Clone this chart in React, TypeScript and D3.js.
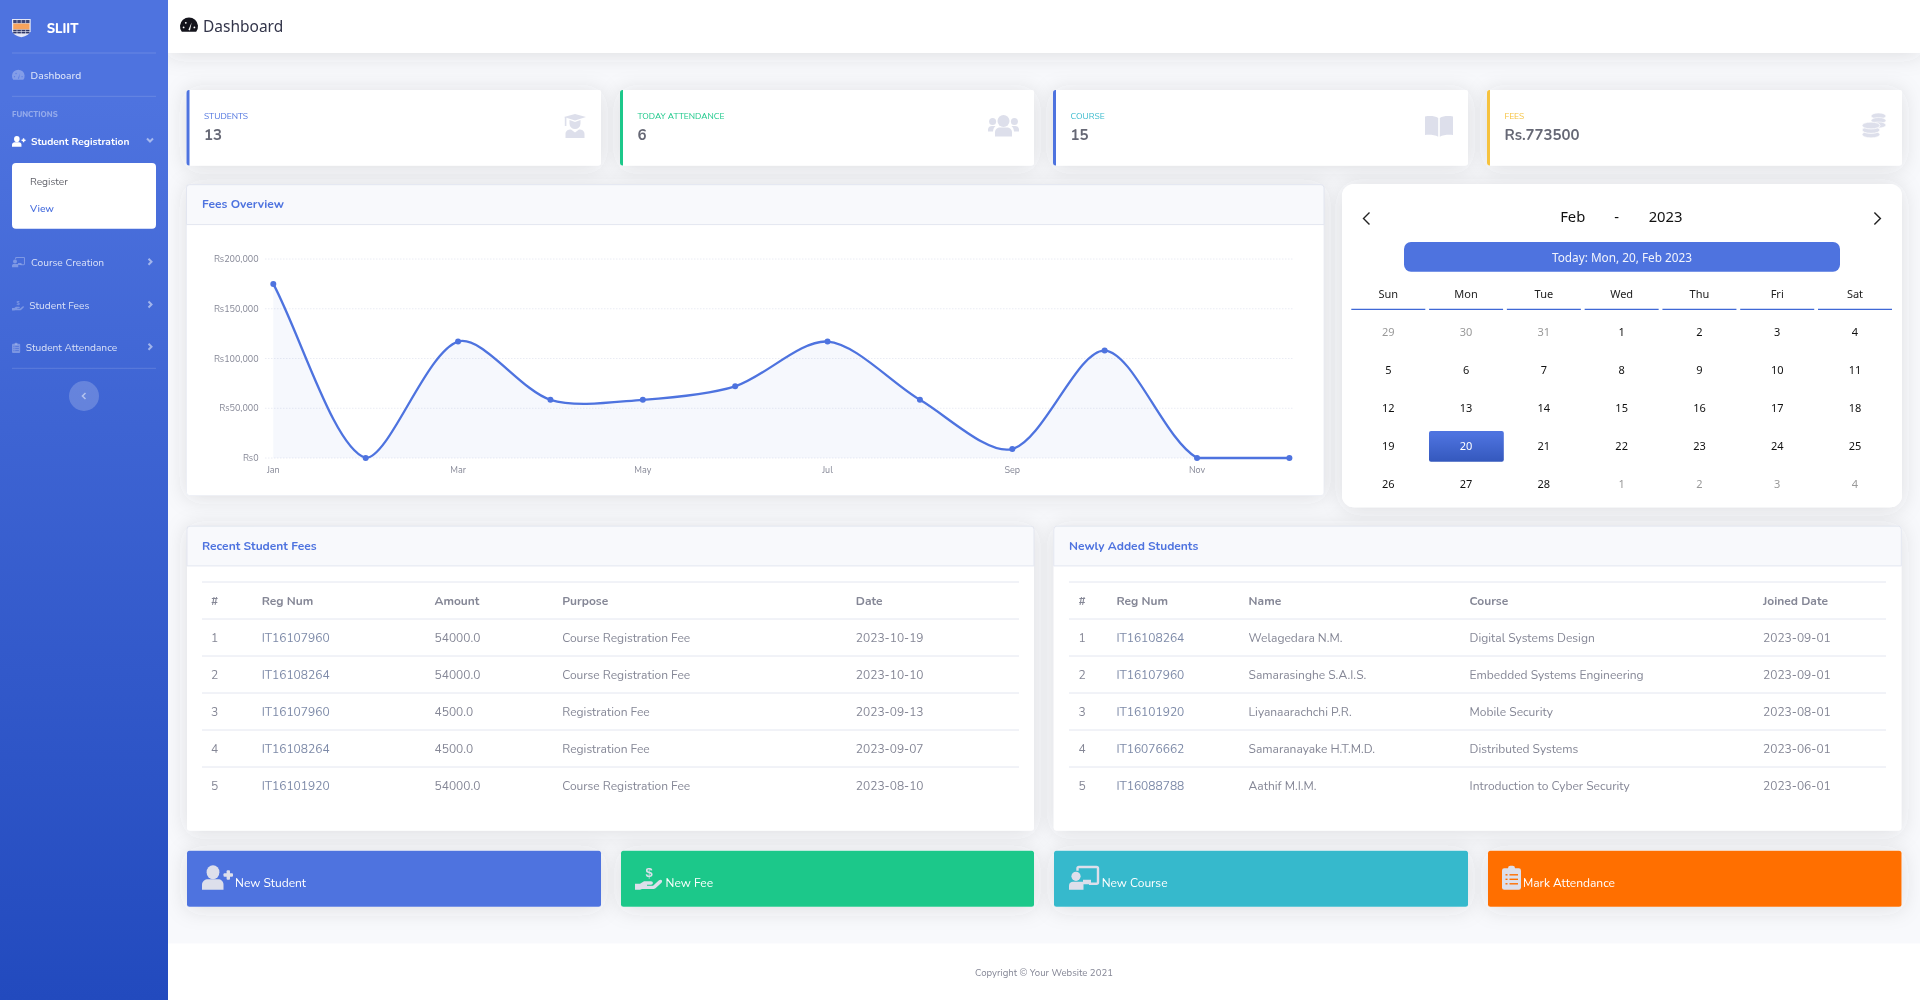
import React from "react";
import * as d3 from "d3";

const months = ["Jan","Feb","Mar","Apr","May","Jun","Jul","Aug","Sep","Oct","Nov","Dec"];
const monthlyFees = [175000,0,117000,58500,58500,72000,117000,58500,9000,108000,0,0];
const yTicks = [0,50000,100000,150000,200000];
const xLabels = ["Jan","Mar","May","Jul","Sep","Nov"];

const statLabels = ["STUDENTS","TODAY ATTENDANCE","COURSE","FEES"];
const statValues = ["13","6","15","Rs.773500"];
const statColors = ["#4e73df","#1cc88a","#36b9cc","#f6c23e"];
const statBorders = ["#4e73df","#1cc88a","#4e73df","#f6c23e"];

const feeHead = ["#","Reg Num","Amount","Purpose","Date"];
const feeRegs = ["IT16107960","IT16108264","IT16107960","IT16108264","IT16101920"];
const feeAmounts = ["54000.0","54000.0","4500.0","4500.0","54000.0"];
const feePurposes = ["Course Registration Fee","Course Registration Fee","Registration Fee","Registration Fee","Course Registration Fee"];
const feeDates = ["2023-10-19","2023-10-10","2023-09-13","2023-09-07","2023-08-10"];

const stuHead = ["#","Reg Num","Name","Course","Joined Date"];
const stuRegs = ["IT16108264","IT16107960","IT16101920","IT16076662","IT16088788"];
const stuNames = ["Welagedara N.M.","Samarasinghe S.A.I.S.","Liyanaarachchi P.R.","Samaranayake H.T.M.D.","Aathif M.I.M."];
const stuCourses = ["Digital Systems Design","Embedded Systems Engineering","Mobile Security","Distributed Systems","Introduction to Cyber Security"];
const stuDates = ["2023-09-01","2023-09-01","2023-08-01","2023-06-01","2023-06-01"];

const weekDays = ["Sun","Mon","Tue","Wed","Thu","Fri","Sat"];
const prevDays = [29,30,31];
const curDays = [1,2,3,4,5,6,7,8,9,10,11,12,13,14,15,16,17,18,19,20,21,22,23,24,25,26,27,28];
const nextDays = [1,2,3,4];

const actionLabels = ["New Student","New Fee","New Course","Mark Attendance"];
const actionColors = ["#4e73df","#1cc88a","#36b9cc","#ff6f00"];

const UI = "Nunito, Lato, sans-serif";
const CAL = "'Noto Sans', sans-serif";
const ICON = "#dddfeb";
const GREY = "#858796";

const cardsX: [number, number][] = [[186.5,601],[620,1034],[1053,1468],[1487,1902]];
const buttonsX: [number, number][] = [[187,601],[621,1034],[1054,1468],[1488,1901.5]];

type TP = { x:number; y:number; s:number; c:string; w?:number; a?:"start"|"middle"|"end"; f?:string; o?:number; children:any };
const T = ({x,y,s,c,w=400,a="start",f=UI,o,children}:TP) => (
  <text x={x} y={y} fontSize={s} fill={c} fontWeight={w} textAnchor={a} fontFamily={f} dominantBaseline="central" opacity={o}>{children}</text>
);

const at = (x:number,y:number,sc:number,el:any) => <g transform={`translate(${x},${y}) scale(${sc})`}>{el}</g>;

const gauge = (c:string, inner:string) => (
  <g>
    <path d="M1.8 14 A9 9 0 1 1 16.2 14 Z" fill={c}/>
    <path d="M8.4 12 L11.6 4.8 L10 12.6 Z" fill={inner}/>
    <circle cx="3.6" cy="9.6" r="0.9" fill={inner}/><circle cx="5.8" cy="5" r="0.9" fill={inner}/>
    <circle cx="14.4" cy="9.6" r="0.9" fill={inner}/>
  </g>
);
const userPlus = (c:string) => (
  <g fill={c}>
    <ellipse cx="11" cy="6.5" rx="6.4" ry="7"/>
    <path d="M0 24 V19 C0 15.5 3 13.5 6 13.5 H16 C19 13.5 21.5 15.5 21.5 19 V24 Z"/>
    <rect x="21.5" y="7.5" width="9.5" height="3.4" rx="1"/><rect x="24.6" y="4.4" width="3.4" height="9.6" rx="1"/>
  </g>
);
const hand = (c:string) => (
  <g fill={c}>
    <text x="14" y="7" fontSize="13" fontWeight="700" textAnchor="middle" fontFamily="'Liberation Sans'" dominantBaseline="central">$</text>
    <path d="M0 24 V18 H5 L9 15.5 H16 C18.5 15.5 18.5 19 16 19 H12 V20 H18 L24 14.5 C26.5 13 28 15 26.5 17 L20.5 22.5 C20 23 19 23.3 18 23.3 H7 L5 24 Z"/>
  </g>
);
const chalk = (c:string) => (
  <g>
    <path d="M8.5 5 V2.5 Q8.5 1.2 10 1.2 H27.5 Q29 1.2 29 2.5 V16.5 Q29 18 27.5 18 H20" fill="none" stroke={c} strokeWidth="2.4"/>
    <circle cx="7" cy="10.5" r="4.6" fill={c}/>
    <path d="M0 24 V20 C0 17 2 16 4 16 H14 V14 H22 V18.5 H14.5 V24 Z" fill={c}/>
  </g>
);
const clip = (c:string, inner:string) => (
  <g>
    <rect x="0" y="2.5" width="19" height="21.5" rx="2.2" fill={c}/>
    <rect x="6" y="0" width="7" height="5" rx="2.4" fill={c}/>
    {[9,13.5,18].map(y => <g key={y}><rect x="3.5" y={y-0.7} width="2" height="1.4" fill={inner}/><rect x="7.5" y={y-0.7} width="8.5" height="1.4" fill={inner}/></g>)}
  </g>
);
const gradCap = (c:string) => (
  <g fill={c}>
    <path d="M0 3 L11 0 L22 3 L11 6.5 Z"/>
    <rect x="0.8" y="3" width="1.6" height="9"/>
    <path d="M5.5 6 L11 8 L16.5 6 V9.5 A5.5 5.5 0 0 1 5.5 9.5 Z"/>
    <path d="M1.5 24 V20 C1.5 17 4 15.6 7 15.6 L11 18.4 L15 15.6 C18 15.6 20.5 17 20.5 20 V24 Z"/>
  </g>
);
const users = (c:string) => (
  <g fill={c}>
    <circle cx="15.5" cy="6" r="6"/>
    <path d="M7 21.5 V17.5 C7 14 9.5 12.5 12 12.5 H19 C21.5 12.5 24 14 24 17.5 V21.5 Z"/>
    <circle cx="4.6" cy="6.5" r="3.5"/><circle cx="26.4" cy="6.5" r="3.5"/>
    <path d="M0 16.5 V14.5 C0 12 2 11 4 11 H7.5 C5.8 12.5 5.2 14.5 5 16.5 Z"/>
    <path d="M31 16.5 V14.5 C31 12 29 11 27 11 H23.5 C25.2 12.5 25.8 14.5 26 16.5 Z"/>
  </g>
);
const book = (c:string) => (
  <g fill={c}>
    <path d="M0 1.5 C5 0.5 10 1 13.2 3 V21.8 C10 20 5 19.5 0 20 Z"/>
    <path d="M28 1.5 C23 0.5 18 1 14.8 3 V21.8 C18 20 23 19.5 28 20 Z"/>
  </g>
);
const coins = (c:string) => (
  <g>
    {[[16.5,3],[16.5,7.5],[16.5,12]].map(([x,y],i) => <ellipse key={i} cx={x} cy={y} rx="7.5" ry="3" fill={c} stroke="#fff" strokeWidth="0.6"/>)}
    {[[9,21.5],[9,17],[9,12.5]].map(([x,y],i) => <ellipse key={i} cx={x} cy={y} rx="9" ry="3.4" fill={c} stroke="#fff" strokeWidth="0.8"/>)}
  </g>
);
const logo = (
  <g>
    <path d="M0 0 H18.7 V11 C18.7 15 14 17 9.3 18.3 C4.7 17 0 15 0 11 Z" fill="#e4e7f6"/>
    <rect x="1.2" y="1" width="16.3" height="3.2" fill="#3d4677"/>
    <rect x="1.2" y="4.6" width="16.3" height="5.8" fill="#f7a35c"/>
    <rect x="1.2" y="10.8" width="16.3" height="3.6" fill="#2c3566"/>
    <path d="M5 1 V4.2 M9.3 1 V4.2 M13.6 1 V4.2 M5 10.8 V15 M9.3 10.8 V17 M13.6 10.8 V15" stroke="#e8ebf8" strokeWidth="0.6"/>
    <path d="M0 12.5 H18.7" stroke="#e8ebf8" strokeWidth="0.6"/>
  </g>
);

const Chev = ({x,y,dir,c,sw=1.7,size=3}:{x:number;y:number;dir:"l"|"r"|"d";c:string;sw?:number;size?:number}) => {
  const d = dir==="d" ? `M${x-size} ${y-size/2} L${x} ${y+size/2} L${x+size} ${y-size/2}`
    : dir==="r" ? `M${x-size/2} ${y-size} L${x+size/2} ${y} L${x-size/2} ${y+size}`
    : `M${x+size/2} ${y-size} L${x-size/2} ${y} L${x+size/2} ${y+size}`;
  return <path d={d} fill="none" stroke={c} strokeWidth={sw}/>;
};

// Chart.js style bezier smoothing (tension 0.3) built with d3.path
function smoothLine(pts:[number,number][], t:number, top:number, bottom:number, close?:number) {
  const cps = pts.map((p,i) => {
    const prev = pts[Math.max(i-1,0)], next = pts[Math.min(i+1,pts.length-1)];
    const d01 = Math.hypot(p[0]-prev[0],p[1]-prev[1]), d12 = Math.hypot(next[0]-p[0],next[1]-p[1]);
    const tot = d01+d12 || 1;
    const fa = t*d01/tot, fb = t*d12/tot;
    const cl = (v:number) => Math.max(top,Math.min(bottom,v));
    return { px:p[0]-fa*(next[0]-prev[0]), py:cl(p[1]-fa*(next[1]-prev[1])), nx:p[0]+fb*(next[0]-prev[0]), ny:cl(p[1]+fb*(next[1]-prev[1])) };
  });
  const path = d3.path();
  path.moveTo(pts[0][0],pts[0][1]);
  for (let i=1;i<pts.length;i++) path.bezierCurveTo(cps[i-1].nx,cps[i-1].ny,cps[i].px,cps[i].py,pts[i][0],pts[i][1]);
  if (close!==undefined) { path.lineTo(pts[pts.length-1][0],close); path.lineTo(pts[0][0],close); path.closePath(); }
  return path.toString();
}

const TableBlock = ({x0,x1,cols,head,rows}:{x0:number;x1:number;cols:number[];head:string[];rows:string[][]}) => {
  const lineY = d3.scaleLinear().domain([0,1]).range([582,619]);
  const rowY = (i:number) => 637.8 + i*37;
  return (
    <g>
      {[0,1,2,3,4,5].map(i => <line key={i} x1={x0} x2={x1} y1={lineY(i)} y2={lineY(i)} stroke="#e3e6f0" strokeWidth="1"/>)}
      {head.map((h,i) => <T key={h} x={cols[i]} y={600.8} s={12} c={GREY} w={700}>{h}</T>)}
      {rows.map((r,ri) => r.map((v,ci) => (
        <T key={ci} x={cols[ci]} y={rowY(ri)} s={12} c={ci===1 ? "#7d8aa8" : GREY}>{v}</T>
      )))}
    </g>
  );
};

export default function App() {
  const x = d3.scalePoint<string>().domain(months).range([273.3,1289.4]);
  const y = d3.scaleLinear().domain([0,200000]).range([458,259]);
  const pts = months.map((m,i) => [x(m) as number, y(monthlyFees[i])] as [number,number]);
  const line = smoothLine(pts,0.3,259,458);
  const area = smoothLine(pts,0.3,259,458,y(0));
  const money = (v:number) => "Rs" + d3.format(",")(v);
  const calX = d3.scalePoint<string>().domain(weekDays).range([1388.3,1855]);
  const cells = [
    ...prevDays.map(d => ({d,m:true})),
    ...curDays.map(d => ({d,m:false})),
    ...nextDays.map(d => ({d,m:true})),
  ];
  const panels:[number,number,number,number,number][] = [
    [186.5,184.7,1137.5,310.9,3],
    [1342,184,560,323.3,12],
    [187,526.2,847,304.4,3],
    [1053.8,526.2,847.5,304.4,3],
    ...cardsX.map(([a,b]) => [a,90,b-a,75.4,3] as [number,number,number,number,number]),
    ...buttonsX.map(([a,b]) => [a,850.8,b-a,56,3] as [number,number,number,number,number]),
  ];
  const actionIcons = [
    at(202,865.8,1,userPlus(ICON)),
    at(635,865.8,1,hand(ICON)),
    at(1069,865.8,1,chalk(ICON)),
    at(1502,865.8,1,clip(ICON,"#ff6f00")),
  ];
  const actionTextX = [235,665.6,1101.7,1523];
  const statIcons = [
    at(564,114,1,gradCap(ICON)),
    at(988,115,1,users(ICON)),
    at(1425,115,1,book(ICON)),
    at(1862,113,1,coins(ICON)),
  ];
  const side = "rgba(255,255,255,.8)", sideI = "rgba(255,255,255,.3)", sideC = "rgba(255,255,255,.5)", sideL = "rgba(255,255,255,.15)";
  return (
    <svg width={1920} height={1000} viewBox="0 0 1920 1000" style={{position:"fixed",left:0,top:0,display:"block",filter:"blur(0.3px)"}}>
      <defs>
        <linearGradient id="sb" x1="0" y1="0" x2="0" y2="1">
          <stop offset="10%" stopColor="#4e73df"/><stop offset="100%" stopColor="#224abe"/>
        </linearGradient>
        <linearGradient id="sel" x1="0" y1="0" x2="0" y2="1">
          <stop offset="10%" stopColor="#4e73df"/><stop offset="100%" stopColor="#3458bd"/>
        </linearGradient>
        <filter id="sh" x="-30%" y="-120%" width="160%" height="340%">
          <feDropShadow dx="0" dy="1.8" stdDeviation="10.5" floodColor="#3a3b45" floodOpacity="0.15"/>
        </filter>
      </defs>

      <rect width={1920} height={1000} fill="#f8f9fc"/>
      {/* shadows */}
      <rect x={168} y={0} width={1752} height={53} fill="#fff" filter="url(#sh)"/>
      {panels.map((p,i) => <rect key={i} x={p[0]} y={p[1]} width={p[2]} height={p[3]} rx={p[4]} fill="#fff" filter="url(#sh)"/>)}
      <rect x={168} y={0} width={1752} height={53} fill="#fff"/>
      <rect x={168} y={943.5} width={1752} height={56.5} fill="#fff"/>

      {/* top bar */}
      {at(180,17.8,1,gauge("#14141c","#fff"))}
      <T x={203} y={25.5} s={15.5} c="#33354a" f={CAL}>Dashboard</T>

      {/* stat cards */}
      {cardsX.map(([a,b],i) => (
        <g key={i}>
          <rect x={a} y={90} width={b-a} height={75.4} rx={3} fill="#fff"/>
          <path d={`M${a+3} 90 H${a+2.5} Q${a} 90 ${a} 92.8 V162.4 Q${a} 165.4 ${a+2.5} 165.4 H${a+3} Z`} fill={statBorders[i]}/>
          <T x={a+17.5} y={116.2} s={8.5} c={statColors[i]} w={400}>{statLabels[i]}</T>
          <T x={a+17.5} y={135.3} s={15} c="#666875" w={700}>{statValues[i]}</T>
          {statIcons[i]}
        </g>
      ))}

      {/* fees chart card */}
      <rect x={186.5} y={184.7} width={1137.5} height={310.9} rx={3} fill="#fff" stroke="#e9ebf3" strokeWidth={0.8}/>
      <path d="M186.5 224.6 V187.7 Q186.5 184.7 189.5 184.7 H1321 Q1324 184.7 1324 187.7 V224.6 Z" fill="#f8f9fc" stroke="#e3e6f0" strokeWidth={1}/>
      <T x={202} y={204.3} s={12} c="#4e73df" w={700}>Fees Overview</T>
      {yTicks.map(v => (
        <g key={v}>
          <line x1={265} x2={1293} y1={y(v)} y2={y(v)} stroke="#eaecf4" strokeWidth={1} strokeDasharray="1.5 1.5"/>
          <T x={258.6} y={y(v)} s={9} c={GREY} a="end">{money(v)}</T>
        </g>
      ))}
      {xLabels.map(m => <T key={m} x={x(m) as number} y={469.8} s={9} c={GREY} a="middle">{m}</T>)}
      <path d={area} fill="rgba(78,115,223,0.05)"/>
      <path d={line} fill="none" stroke="#4e73df" strokeWidth={2.3}/>
      {pts.map((p,i) => <circle key={i} cx={p[0]} cy={p[1]} r={3} fill="#4e73df"/>)}

      {/* calendar */}
      <rect x={1342} y={184} width={560} height={323.3} rx={12} fill="#fff"/>
      <Chev x={1366.5} y={218.5} dir="l" c="#222" sw={1.4} size={6}/>
      <Chev x={1877.4} y={218.5} dir="r" c="#222" sw={1.4} size={6}/>
      <T x={1572.7} y={215.6} s={14.8} c="#111" a="middle" f={CAL}>Feb</T>
      <T x={1616.7} y={215.6} s={14.8} c="#111" a="middle" f={CAL}>-</T>
      <T x={1665.6} y={215.6} s={14.8} c="#111" a="middle" f={CAL}>2023</T>
      <rect x={1404} y={242} width={436} height={29.7} rx={7} fill="#4e73df"/>
      <T x={1622} y={256.7} s={11.8} c="#f2f4fc" a="middle" f={CAL}>Today: Mon, 20, Feb 2023</T>
      {weekDays.map(d => (
        <g key={d}>
          <T x={calX(d) as number} y={293.6} s={11} c="#222" a="middle" f={CAL}>{d}</T>
          <line x1={(calX(d) as number)-37} x2={(calX(d) as number)+37} y1={309.3} y2={309.3} stroke="#3f68d6" strokeWidth={1.3}/>
        </g>
      ))}
      <rect x={1429} y={431} width={74.8} height={30.7} rx={2} fill="url(#sel)"/>
      {cells.map((c,i) => (
        <T key={i} x={calX(weekDays[i%7]) as number} y={331.6+38*Math.floor(i/7)} s={11} a="middle" f={CAL}
           c={c.m ? "#999" : (c.d===20 ? "#fff" : "#111")}>{c.d}</T>
      ))}

      {/* tables */}
      {[0,1].map(k => {
        const a = k===0 ? 187 : 1053.8, w = k===0 ? 847 : 847.5;
        return (
          <g key={k}>
            <rect x={a} y={526.2} width={w} height={304.4} rx={3} fill="#fff"/>
            <path d={`M${a} 565.9 V529.2 Q${a} 526.2 ${a+3} 526.2 H${a+w-3} Q${a+w} 526.2 ${a+w} 529.2 V565.9 Z`} fill="#f8f9fc" stroke="#e3e6f0" strokeWidth={1}/>
          </g>
        );
      })}
      <T x={202} y={545.7} s={12} c="#4e73df" w={700}>Recent Student Fees</T>
      <T x={1069} y={545.7} s={12} c="#4e73df" w={700}>Newly Added Students</T>
      <TableBlock x0={202} x1={1019} cols={[211,261.7,434.5,562.3,855.8]} head={feeHead}
        rows={feeRegs.map((r,i) => [String(i+1),r,feeAmounts[i],feePurposes[i],feeDates[i]])}/>
      <TableBlock x0={1069} x1={1886} cols={[1078.5,1116.4,1248.6,1469.6,1763]} head={stuHead}
        rows={stuRegs.map((r,i) => [String(i+1),r,stuNames[i],stuCourses[i],stuDates[i]])}/>

      {/* action buttons */}
      {buttonsX.map(([a,b],i) => (
        <g key={i}>
          <rect x={a} y={850.8} width={b-a} height={56} rx={2.5} fill={actionColors[i]}/>
          {actionIcons[i]}
          <T x={actionTextX[i]} y={882.6} s={12} c="#fff">{actionLabels[i]}</T>
        </g>
      ))}

      <T x={1044} y={972.3} s={9.6} c={GREY} a="middle">Copyright © Your Website 2021</T>

      {/* sidebar */}
      <rect x={0} y={0} width={168} height={1000} fill="url(#sb)"/>
      {at(12,19,1,logo)}
      <T x={46.7} y={29.4} s={13} c="#fff" w={800}>SLIIT</T>
      {[53,96.3,368.3].map(v => <line key={v} x1={12} x2={156} y1={v} y2={v} stroke={sideL}/>)}
      {at(12,70,0.7,gauge(sideI,"#5a7de2"))}
      <T x={30.6} y={75.7} s={10.2} c={side} w={500}>Dashboard</T>
      <T x={12} y={114} s={7.8} c="rgba(255,255,255,.4)" w={800}>FUNCTIONS</T>
      {at(12,136.2,0.44,userPlus("#fff"))}
      <T x={31} y={141.7} s={10.2} c="#fff" w={700}>Student Registration</T>
      <Chev x={150} y={140} dir="d" c={sideC} sw={2}/>
      <rect x={12} y={163} width={144} height={65.7} rx={4} fill="#fff"/>
      <T x={30} y={181.7} s={10.2} c="#3a3b45" o={0.8}>Register</T>
      <T x={30} y={208.5} s={10.2} c="#4e73df" w={600}>View</T>
      {at(12,257,0.43,chalk(sideI))}
      <T x={31} y={262.7} s={10.2} c={side}>Course Creation</T>
      <Chev x={150} y={261.7} dir="r" c={sideC} sw={2}/>
      {at(12,300,0.44,hand(sideI))}
      <T x={29.3} y={305.5} s={10.2} c={side}>Student Fees</T>
      <Chev x={150} y={304.5} dir="r" c={sideC} sw={2}/>
      {at(12,342.7,0.43,clip(sideI,"#4569d8"))}
      <T x={25.7} y={347.5} s={10.2} c={side}>Student Attendance</T>
      <Chev x={150} y={346.7} dir="r" c={sideC} sw={2}/>
      <circle cx={84} cy={396} r={15} fill="rgba(255,255,255,.2)"/>
      <Chev x={84} y={396} dir="l" c={sideC} sw={1.6}/>
    </svg>
  );
}
